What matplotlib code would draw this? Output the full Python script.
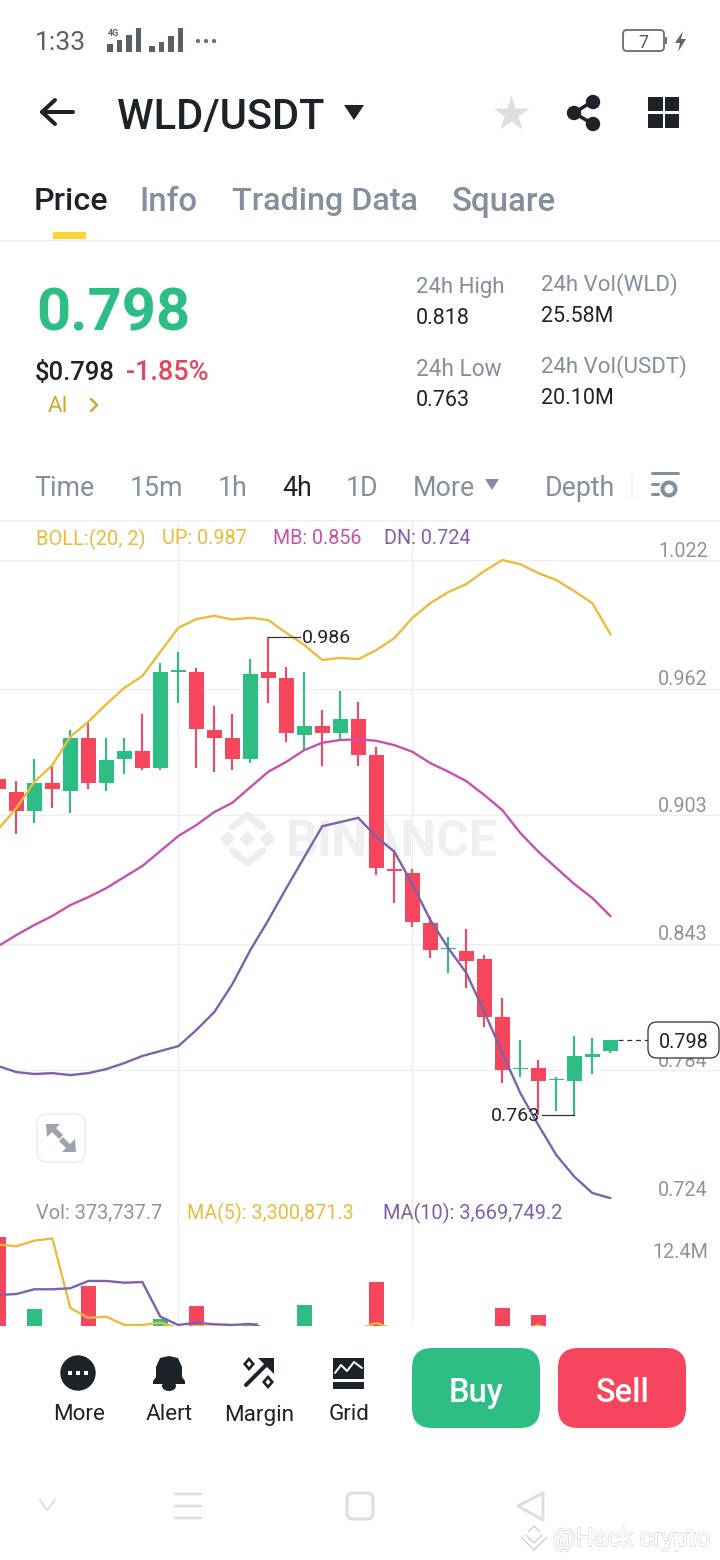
import matplotlib
matplotlib.use('Agg')
import matplotlib.pyplot as plt
import matplotlib.patheffects as pe
from matplotlib.patches import FancyBboxPatch, Polygon, Circle, Rectangle, Ellipse

plt.rcParams['font.family'] = ['Roboto', 'DejaVu Sans']

# candles
opens = [.9197, .9139, .9051, .9179, .9143, .9388, .9181, .9292, .9329, .9251, .9700, .9699,
         .9427, .9388, .9292, .9698, .9668, .9402, .9447, .9412, .9478, .9309, .8779, .8759,
         .8528, .8404, .8398, .8359, .8090, .7845, .7849, .7793, .7792, .7902, .7931]
highs = [.9203, .9189, .9290, .9264, .9427, .9466, .9388, .9388, .9500, .9738, .9790, .9718,
         .9539, .9500, .9758, .9859, .9720, .9699, .9519, .9609, .9559, .9349, .8867, .8779,
         .8556, .8460, .8499, .8378, .8179, .7980, .7888, .7807, .8000, .7989, .7980]
lows = [.9147, .8942, .8993, .9062, .9040, .9151, .9143, .9222, .9241, .9241, .9552, .9251,
        .9233, .9241, .9272, .9552, .9373, .9334, .9261, .9381, .9261, .8751, .8622, .8510,
        .8362, .8292, .8222, .8041, .7782, .7810, .7632, .7652, .7632, .7821, .7922]
closes = [.9151, .9051, .9179, .9151, .9388, .9181, .9287, .9329, .9251, .9699, .9707, .9432,
          .9391, .9292, .9688, .9671, .9412, .9447, .9412, .9478, .9312, .8782, .8771, .8532,
          .8401, .8409, .8351, .8090, .7841, .7849, .7792, .7799, .7908, .7917, .7980]

boll_up = [.8965, .9063, .9185, .9264, .9396, .9466, .9548, .9624, .9679, .9792, .9904, .9945,
           .9960, .9943, .9951, .9940, .9880, .9824, .9754, .9764, .9758, .9800, .9856, .9950,
           1.0019, 1.0071, 1.0108, 1.0169, 1.0220, 1.0201, 1.0159, 1.0127, 1.0075, 1.0019, .9875]
boll_mb = [.8420, .8471, .8518, .8560, .8611, .8648, .8690, .8742, .8793, .8863, .8933, .8984,
           .9045, .9088, .9161, .9233, .9279, .9334, .9368, .9381, .9384, .9377, .9357, .9326,
           .9273, .9233, .9189, .9124, .9054, .8947, .8860, .8784, .8709, .8644, .8560]
boll_dn = [.7860, .7832, .7823, .7827, .7818, .7827, .7846, .7874, .7907, .7930, .7953, .8028,
           .8112, .8242, .8401, .8541, .8690, .8835, .8979, .8998, .9018, .8929, .8860, .8709,
           .8541, .8410, .8294, .8113, .7921, .7734, .7585, .7445, .7344, .7268, .7244]

# volume in millions, most of the small bars are hidden behind the toolbar
volumes = [15.6, 3.1, 6.42, 2.4, 3.6, 9.33, 2.8, 3.0, 2.2, 5.15, 1.9, 6.84,
           2.6, 1.8, 4.68, 3.2, 3.9, 6.96, 1.5, 2.0, 2.7, 9.87, 3.4, 2.9,
           2.1, 1.3, 2.4, 3.8, 6.58, 2.3, 5.70, 1.2, 3.1, 1.6, 0.374]
vol_ma5 = [14.6, 14.4, 15.1, 15.4, 6.58, 5.32, 5.48, 4.43, 4.43, 4.72, 4.05, 4.3,
           4.2, 4.2, 4.2, 3.6, 3.5, 3.6, 3.4, 3.3, 3.9, 4.68, 3.9, 3.8,
           3.6, 3.4, 3.2, 3.0, 3.3, 3.7, 4.4, 3.6, 3.4, 3.3, 3.3]
vol_ma10 = [8.23, 8.35, 8.95, 8.95, 9.08, 10.0, 10.0, 9.78, 9.87, 5.48, 4.43, 4.72,
            4.52, 4.43, 4.56, 3.9, 3.8, 3.8, 3.7, 3.7, 3.7, 3.8, 3.8, 3.7,
            3.6, 3.5, 3.5, 3.4, 3.5, 3.6, 3.7, 3.7, 3.7, 3.7, 3.67]

price_ticks = [1.022, .962, .903, .843, .784, .724]
last_price = 0.798
grid_idx = [10, 23]

GREEN = '#2EBD85'
RED = '#F6465D'
DARK = '#1E2329'
GRAY = '#848E9C'
AXGRAY = '#8E949C'
YELLOW = '#E9BC3E'
MAGENTA = '#C651AE'
PURPLE = '#7E62A9'
LINE = '#ECEEF0'

W, H = 720, 1560
fig = plt.figure(figsize=(W / 100, H / 100), dpi=100, facecolor='white')


def px_axes(left, top, right, bottom, zorder):
    a = fig.add_axes([left / W, 1 - bottom / H, (right - left) / W, (bottom - top) / H], zorder=zorder)
    return a


bg = px_axes(0, 0, W, H, 0)
ui = px_axes(0, 0, W, H, 5)
for a in (bg, ui):
    a.set_xlim(0, W)
    a.set_ylim(H, 0)
    a.axis('off')
    a.patch.set_alpha(0)

xlim = (0.0928, 40.093)
x = list(range(len(opens)))

# price panel
ax = px_axes(0, 520, W, 1199, 2)
ax.patch.set_alpha(0)
ax.set_xlim(*xlim)
ax.set_ylim(0.724, 1.0407)
ax.set_yticks(price_ticks)
ax.set_xticks(grid_idx)
ax.grid(True, color=LINE, lw=0.9)
ax.tick_params(left=False, bottom=False, labelleft=False, labelbottom=False)
for s in ax.spines.values():
    s.set_visible(False)
ax.set_axisbelow(True)

colors = [GREEN if c >= o else RED for o, c in zip(opens, closes)]
ax.vlines(x, lows, highs, colors=colors, lw=1.5, zorder=2)
ax.bar(x, [abs(c - o) for o, c in zip(opens, closes)], bottom=[min(o, c) for o, c in zip(opens, closes)],
       width=0.86, color=colors, zorder=3)
ax.plot(x, boll_up, color=YELLOW, lw=1.7, zorder=4)
ax.plot(x, boll_mb, color=MAGENTA, lw=1.7, zorder=4)
ax.plot(x, boll_dn, color=PURPLE, lw=1.7, zorder=4)

# high / low markers
ax.plot([15, 16.75], [max(highs)] * 2, color='#333333', lw=0.9, zorder=5)
ax.annotate('0.986', xy=(16.85, max(highs)), xytext=(0, -1), textcoords='offset pixels', fontsize=14,
            color=DARK, va='center', ha='left', zorder=6)
ax.plot([30.2, 32], [min(lows)] * 2, color='#333333', lw=0.9, zorder=5)
ax.annotate('0.763', xy=(30.1, min(lows)), xytext=(0, -1), textcoords='offset pixels', fontsize=14,
            color=DARK, va='center', ha='right', zorder=6)
ax.plot([34.45, 36.1], [last_price] * 2, color='#333333', lw=0.9, ls=(0, (4, 3)), zorder=5)

for p in price_ticks:
    ax.annotate('%.3f' % p, xy=(1, p), xycoords=('axes fraction', 'data'), xytext=(-12, 9),
                textcoords='offset pixels', ha='right', va='center', fontsize=14.2, color=AXGRAY)

# volume panel, cut off by the toolbar
vax = px_axes(0, 1199, W, 1326, 2)
vax.patch.set_alpha(0)
vax.set_xlim(*xlim)
vax.set_ylim(4.30, 20.38)
vax.set_xticks(grid_idx)
vax.set_yticks([])
vax.grid(True, axis='x', color=LINE, lw=0.9)
vax.tick_params(left=False, bottom=False, labelleft=False, labelbottom=False)
for s in vax.spines.values():
    s.set_visible(False)
vax.set_axisbelow(True)
vax.bar(x, volumes, width=0.86, color=colors, zorder=2)
vax.plot(x, vol_ma5, color=YELLOW, lw=1.7, zorder=3)
vax.plot(x, vol_ma10, color=PURPLE, lw=1.7, zorder=3)


def px(v):
    return v * 0.72


def txt(x0, y0, s, size, color=DARK, ha='left', weight='normal', **kw):
    # roboto sits a little high with va=center
    return ui.text(x0, y0 + 2, s, fontsize=size, color=color, ha=ha, va='center', fontweight=weight, **kw)


def poly(pts, color, target=ui, **kw):
    target.add_patch(Polygon(pts, closed=True, facecolor=color, edgecolor='none', **kw))


def stroke(pts, color, width, target=ui, **kw):
    target.plot([p[0] for p in pts], [p[1] for p in pts], color=color, lw=px(width),
                solid_capstyle='round', solid_joinstyle='round', **kw)


def rbox(x0, y0, x1, y1, r, fc, ec='none', lw=0, target=ui, **kw):
    target.add_patch(FancyBboxPatch((x0, y0), x1 - x0, y1 - y0, boxstyle='round,pad=0,rounding_size=%g' % r,
                                    facecolor=fc, edgecolor=ec, lw=lw, **kw))


# watermark
wm = '#ECEDEF'
cx, cy = 247.5, 839
poly([(cx - 8, cy), (cx, cy - 8), (cx + 8, cy), (cx, cy + 8)], wm, bg)
poly([(cx - 28, cy), (cx - 20, cy - 8), (cx - 12, cy), (cx - 20, cy + 8)], wm, bg)
poly([(cx + 28, cy), (cx + 20, cy - 8), (cx + 12, cy), (cx + 20, cy + 8)], wm, bg)
stroke([(cx - 15, cy - 12), (cx, cy - 24), (cx + 15, cy - 12)], wm, 7, bg)
stroke([(cx - 15, cy + 12), (cx, cy + 24), (cx + 15, cy + 12)], wm, 7, bg)
bg.text(286, 843, 'BINANCE', fontsize=36, fontweight='bold', color='#EEEFF1', va='center', ha='left')

# status bar
txt(35, 41, '1:33', 19, '#5B6066')
txt(108, 31, '4G', 6.5, '#5B6066', weight='bold')
for x0, hs in ((107, (8, 12, 17, 24)), (149, (6, 10, 16, 24))):
    for k, h in enumerate(hs):
        ui.add_patch(Rectangle((x0 + k * 9.5, 52 - h), 5.5, h, facecolor='#5B6066', edgecolor='none'))
for x0 in (198, 206, 214):
    ui.add_patch(Circle((x0, 41), 1.4, color='#6A6F75'))
rbox(623, 30, 664, 51, 4, 'white', '#73777C', 1.4)
ui.add_patch(Rectangle((665, 37), 2, 7, facecolor='#73777C', edgecolor='none'))
txt(643, 41, '7', 13, '#555A60', ha='center')
poly([(683, 31), (675, 43), (680, 43), (678, 52), (686, 39), (681, 39)], '#62666C')

# header
stroke([(73, 112), (42, 112)], DARK, 4)
stroke([(55, 100), (42, 112), (55, 124)], DARK, 4)
txt(117, 116, 'WLD/USDT', 30, DARK, weight='medium')
poly([(344, 105), (364, 105), (354, 120)], DARK)
ui.plot([511], [114], marker='*', ms=27, color='#DDDFE3', mec='none')
stroke([(593, 101), (574, 113), (593, 124)], DARK, 3.5)
for c in ((593, 102), (574, 113), (593, 124)):
    ui.add_patch(Circle(c, 6.5, color=DARK))
for x0, y0 in ((648, 97), (664.5, 97), (648, 114), (664.5, 114)):
    ui.add_patch(Rectangle((x0, y0), 14.5, 14, facecolor=DARK, edgecolor='none'))

# tabs
txt(34, 200, 'Price', 23.2, DARK, weight='medium')
txt(139, 200, 'Info', 23.8, GRAY, weight='medium')
txt(232, 200, 'Trading Data', 23.2, GRAY, weight='medium')
txt(452, 200, 'Square', 23.8, GRAY, weight='medium')
ui.add_patch(Rectangle((53, 232), 33, 7, facecolor='#FCD535', edgecolor='none'))
stroke([(0, 239.5), (720, 239.5)], LINE, 1.3)

# price summary
txt(36, 312.5, '0.798', 43, GREEN, weight='bold')
txt(35, 371, '$0.798', 18.5, DARK, weight='medium')
txt(126, 371, '-1.85%', 19.5, '#E0485F', weight='medium')
txt(48, 405, 'AI', 16, '#CDAA30')
stroke([(91, 399), (97, 405), (91, 411)], '#CDAA30', 2.5)
txt(416, 285, '24h High', 16, GRAY)
txt(416, 317, '0.818', 15.5, DARK)
txt(541, 283, '24h Vol(WLD)', 16, GRAY)
txt(541, 315, '25.58M', 15.5, DARK)
txt(416, 367, '24h Low', 16.3, GRAY)
txt(416, 399, '0.763', 15.5, DARK)
txt(541, 365, '24h Vol(USDT)', 16, GRAY)
txt(541, 397, '20.10M', 15.5, DARK)

# interval row
for x0, s, c in ((34, 'Time', GRAY), (130, '15m', GRAY), (218, '1h', GRAY), (282, '4h', DARK),
                 (346, '1D', GRAY), (413, 'More', GRAY), (545, 'Depth', GRAY)):
    txt(x0, 487, s, 19.3, c)
poly([(485, 479), (499, 479), (492, 490)], GRAY)
stroke([(632, 474), (632, 498)], LINE, 1.5)
stroke([(652, 473), (678, 473)], GRAY, 3)
for y0 in (484, 494):
    stroke([(652, y0), (658, y0)], GRAY, 3)
ui.add_patch(Circle((669, 489), 6.5, facecolor='white', edgecolor=GRAY, lw=px(4)))
stroke([(0, 519.5), (720, 519.5)], LINE, 1.3)

# legends
txt(36, 537, 'BOLL:(20, 2)', 14.5, YELLOW)
txt(162, 537, 'UP: 0.987', 14.3, YELLOW)
txt(273, 537, 'MB: 0.856', 14.1, MAGENTA)
txt(384, 537, 'DN: 0.724', 14.3, PURPLE)
txt(36, 1211, 'Vol: 373,737.7', 14.4, AXGRAY)
txt(187, 1211, 'MA(5): 3,300,871.3', 14.2, YELLOW)
txt(383, 1211, 'MA(10): 3,669,749.2', 14.4, PURPLE)
txt(708, 1250, '12.4M', 14.2, AXGRAY, ha='right')

# last price tag
rbox(648, 1022, 719, 1058, 9, 'white', '#2B2F36', 0.9)
txt(683.5, 1041, '0.798', 14.2, DARK, ha='center')

# expand button
rbox(37, 1114, 85, 1162, 10, 'white', '#ECEEF0', 1.3)
arrow = '#9EA4AC'
poly([(46, 1124), (60, 1124), (56, 1128), (63, 1135), (59, 1139), (52, 1132), (47, 1137)], arrow)
poly([(76, 1152), (62, 1152), (66, 1148), (59, 1141), (63, 1137), (70, 1144), (75, 1139)], arrow)

# toolbar
ui.add_patch(Circle((78, 1373), 17, color=DARK))
for x0 in (70, 78, 86):
    ui.add_patch(Rectangle((x0 - 2, 1371), 4, 4, facecolor='white', edgecolor='none'))
poly([(153, 1381), (156, 1377), (156, 1367), (160, 1358), (169, 1356), (178, 1358), (182, 1367), (182, 1377),
      (185, 1381), (185, 1384), (153, 1384)], DARK)
ui.add_patch(Ellipse((169, 1386), 14, 10, facecolor=DARK, edgecolor='none'))
stroke([(246, 1385), (270, 1361)], DARK, 4)
poly([(258, 1358), (274, 1358), (274, 1374)], DARK)
for c in ((249, 1364), (268, 1382)):
    poly([(c[0] - 6, c[1]), (c[0], c[1] - 7), (c[0] + 6, c[1]), (c[0], c[1] + 7)], DARK)
    poly([(c[0] - 2.5, c[1]), (c[0], c[1] - 3), (c[0] + 2.5, c[1]), (c[0], c[1] + 3)], 'white')
ui.add_patch(Rectangle((333, 1358), 31, 21, facecolor=DARK, edgecolor='none'))
stroke([(335, 1373), (341, 1365), (347, 1371), (354, 1362), (362, 1368)], 'white', 2)
ui.add_patch(Rectangle((333, 1382), 31, 7, facecolor=DARK, edgecolor='none'))
for x0, s in ((79, 'More'), (169, 'Alert'), (259, 'Margin'), (349, 'Grid')):
    txt(x0, 1413, s, 16.2, DARK, ha='center')
rbox(412, 1348, 540, 1428, 20, GREEN)
rbox(558, 1348, 686, 1428, 20, RED)
txt(476, 1391, 'Buy', 23.5, 'white', ha='center', weight='medium')
txt(623, 1391, 'Sell', 23.5, 'white', ha='center', weight='medium')

# android nav bar
nav = '#DCDEE1'
stroke([(40, 1500), (47, 1510), (55, 1500)], nav, 2)
for y0 in (1494, 1506, 1518):
    stroke([(175, y0), (201, y0)], nav, 2.5)
rbox(347, 1493, 373, 1519, 6, 'white', nav, px(3))
stroke([(543, 1493), (518, 1506), (543, 1520), (543, 1493)], nav, 3)

# post watermark
wm2 = '#BFC2C6'
stroke([(521, 1537), (534, 1550), (547, 1537)], wm2, 1)
stroke([(526, 1535), (534, 1543), (542, 1535)], wm2, 1)
stroke([(528, 1532), (534, 1526), (540, 1532)], wm2, 1)
t = txt(553, 1537, '@Hack crypto', 18.2, 'white')
t.set_path_effects([pe.withStroke(linewidth=0.8, foreground=wm2), pe.Normal()])

fig.savefig('out.png', dpi=100)
